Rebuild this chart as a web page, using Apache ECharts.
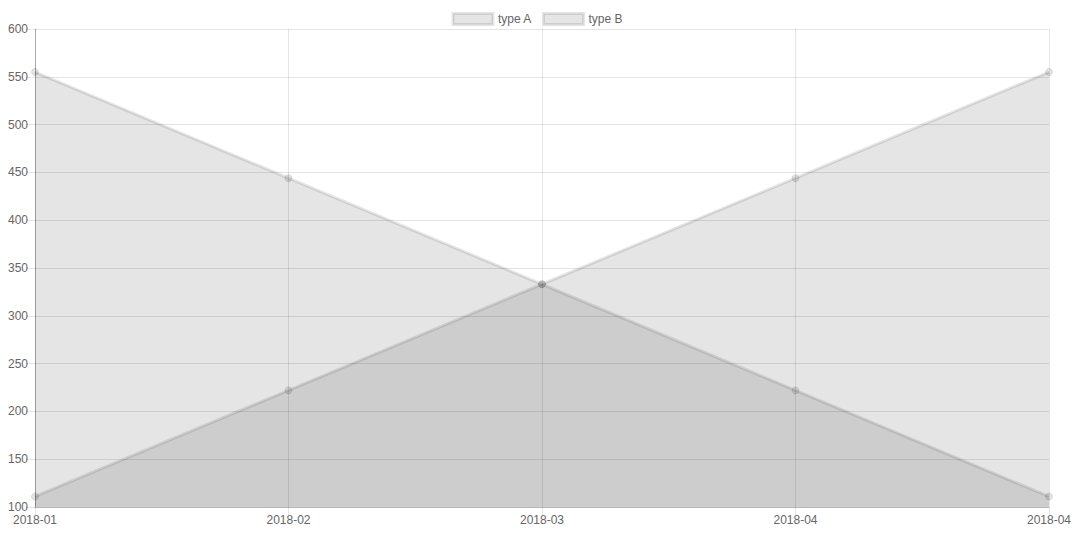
<!DOCTYPE html>
<html>
<head>
<meta charset="utf-8">
<script src="https://cdn.jsdelivr.net/npm/echarts@6/dist/echarts.min.js"></script>
<style>
  html, body { margin: 0; padding: 0; background: #fff; }
  #chart { width: 1074px; height: 533px; }
</style>
</head>
<body>
<div id="chart"></div>
<script>
var months = ['2018-01', '2018-02', '2018-03', '2018-04', '2018-04'];
var typeA = [555, 444, 333, 222, 111];
var typeB = [111, 222, 333, 444, 555];
var yMin = 100, yMax = 600, yStep = 50;

(function() {
  var grey = 'rgba(0,0,0,0.1)';
  var gridGrey = 'rgba(0,0,0,0.1)';
  var text = '#666';
  var font = '"Liberation Sans", Arial, sans-serif';

  function areaSeries(name, values) {
    return {
      name: name,
      type: 'line',
      data: values,
      symbol: 'circle',
      symbolSize: 7,
      lineStyle: { color: grey, width: 3 },
      itemStyle: { color: grey, borderColor: grey, borderWidth: 1 },
      areaStyle: { color: grey, opacity: 1, origin: 'start' },
      emphasis: { disabled: true }
    };
  }

  var chart = echarts.init(document.getElementById('chart'), null, { renderer: 'svg' });
  chart.setOption({
    animation: false,
    textStyle: { fontFamily: font },
    legend: {
      top: 7,
      left: 'center',
      icon: 'rect',
      itemWidth: 40,
      itemHeight: 11,
      itemGap: 10,
      textStyle: { color: text, fontSize: 12, fontFamily: font },
      itemStyle: { color: grey, borderColor: grey, borderWidth: 3 },
      data: ['type A', 'type B']
    },
    grid: { left: 35, right: 22, top: 29, bottom: 26, containLabel: false },
    xAxis: {
      type: 'category',
      data: months,
      boundaryGap: false,
      axisLine: { show: true, lineStyle: { color: 'rgba(0,0,0,0.2)' } },
      axisTick: { show: true, alignWithLabel: true, length: 8, lineStyle: { color: gridGrey } },
      axisLabel: { color: text, fontSize: 12, margin: 7, interval: 0, fontFamily: font },
      splitLine: { show: true, lineStyle: { color: gridGrey } }
    },
    yAxis: {
      type: 'value',
      min: yMin,
      max: yMax,
      interval: yStep,
      axisLine: { show: true, lineStyle: { color: 'rgba(0,0,0,0.25)' } },
      axisTick: { show: true, length: 9, lineStyle: { color: gridGrey } },
      axisLabel: { color: text, fontSize: 12, margin: 7, fontFamily: font },
      splitLine: { show: true, lineStyle: { color: gridGrey } }
    },
    series: [
      areaSeries('type A', typeA),
      areaSeries('type B', typeB)
    ]
  });
  window.addEventListener('resize', function() { chart.resize(); });
})();
</script>
</body>
</html>
